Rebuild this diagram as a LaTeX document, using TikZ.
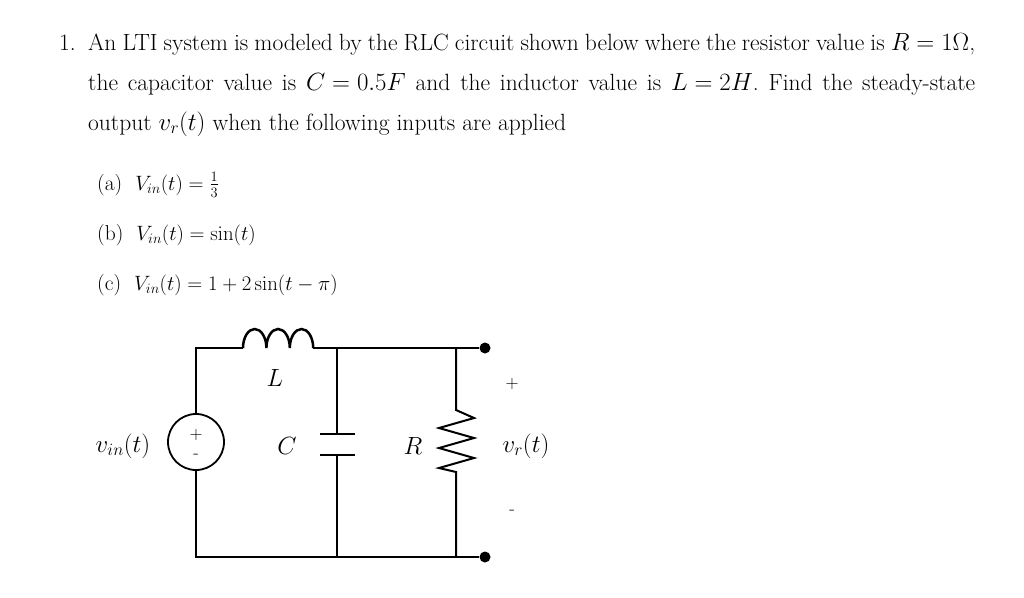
\documentclass[tikz,border=0pt]{standalone}
\usepackage{amsmath}
\begin{document}
\begin{tikzpicture}[x=1pt,y=-1pt,wire/.style={line width=2.5pt},
 txt/.style={anchor=base west,inner sep=0pt,font=\fontsize{23.5}{27}\selectfont},
 itm/.style={anchor=base west,inner sep=0pt,font=\fontsize{21.5}{25}\selectfont},
 lbl/.style={inner sep=0pt,font=\fontsize{27}{30}\selectfont},
 pm/.style={inner sep=0pt,font=\fontsize{18}{18}\selectfont},
 dotc/.style={circle,fill=black,inner sep=0pt,minimum size=11pt}]
\useasboundingbox (0,0) rectangle (1024,597);
\node[txt] (n1) at (59,50) {1.};
\node[txt] (l1) at (88,50) {\makebox[887pt][s]{An LTI system is modeled by the RLC circuit shown below where the resistor value is \mbox{$R=1\Omega$,}}};
\node[txt] (l2) at (88,90) {\makebox[887pt][s]{the capacitor value is \mbox{$C=0.5F$} and the inductor value is \mbox{$L=2H$.} Find the steady-state}};
\node[txt] (l3) at (88,130) {output $v_r(t)$ when the following inputs are applied};
\node[itm] (a) at (97,190) {(a) \ $V_{in}(t)=\frac{1}{3}$};
\node[itm] (b) at (97,240) {(b) \ $V_{in}(t)=\sin(t)$};
\node[itm] (c) at (97,290) {(c) \ $V_{in}(t)=1+2\sin(t-\pi)$};
% circuit
\node[draw,circle,line width=1.8pt,minimum size=56pt,inner sep=0pt] (src) at (196,442) {};
\node[pm] (sp) at (196,435) {+};
\node[pm] (sm) at (196,456) {-};
\coordinate (tl) at (196,348); \coordinate (bl) at (196,557);
\coordinate (i1) at (243,348); \coordinate (i2) at (313,348);
\coordinate (ct) at (337,348); \coordinate (cb) at (337,557);
\coordinate (rt) at (456,348); \coordinate (rb) at (456,557);
\node[dotc] (o1) at (485,348) {};
\node[dotc] (o2) at (485,557) {};
\draw[wire] (src.north) -- (tl) -- (i1);
\draw[wire] (i1) arc[start angle=180,end angle=0,x radius=11.7pt,y radius=19pt]
 arc[start angle=180,end angle=0,x radius=11.7pt,y radius=19pt]
 arc[start angle=180,end angle=0,x radius=11.7pt,y radius=19pt];
\draw[wire] (i2) -- (o1);
\draw[wire] (src.south) -- (bl) -- (o2);
\draw[wire] (ct) -- (337,434); \draw[wire] (320,434) -- (355,434);
\draw[wire] (320,455) -- (355,455); \draw[wire] (337,455) -- (cb);
\draw[wire,line width=2pt] (rt) -- (456,410) -- (474,418) -- (439,428) -- (474,438) -- (439,448) -- (474,458) -- (439,468) -- (456,472) -- (rb);
\node[lbl] (Lb) at (275,378) {$L$};
\node[lbl] (Cb) at (287,446) {$C$};
\node[lbl] (Rb) at (413,446) {$R$};
\node[lbl] (vin) at (123,446) {$v_{in}(t)$};
\node[lbl] (vr) at (526,446) {$v_r(t)$};
\node[pm] (pp) at (512,384) {+};
\node[pm] (mm) at (512,512) {-};
\end{tikzpicture}
\end{document}
